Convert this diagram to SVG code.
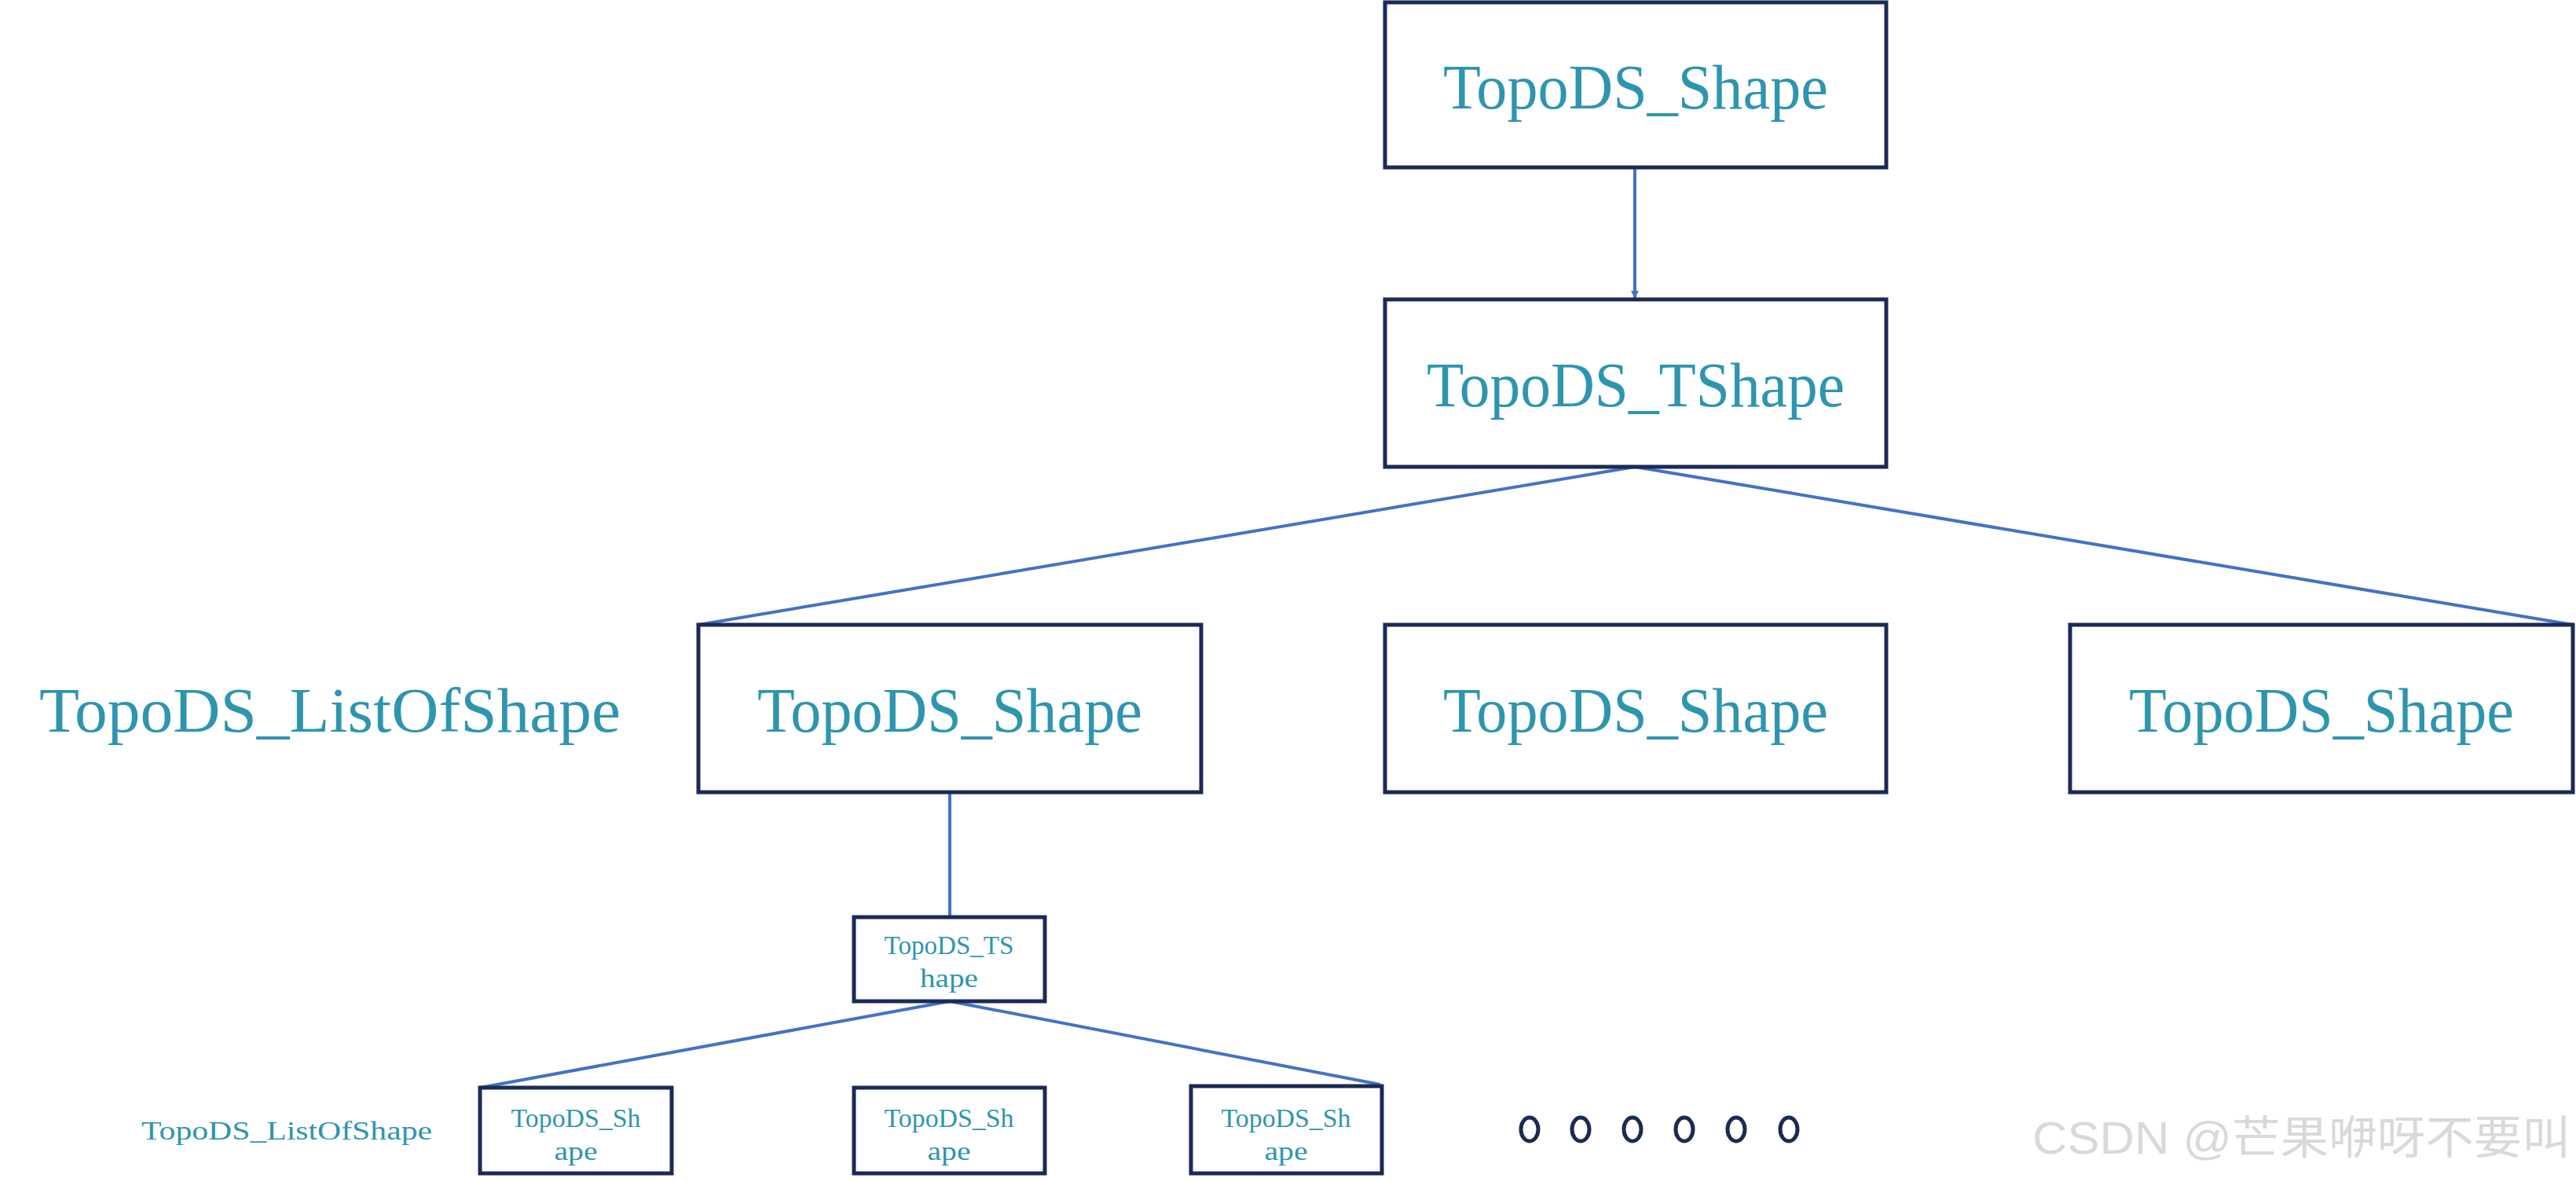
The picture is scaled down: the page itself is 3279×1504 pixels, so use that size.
<svg xmlns="http://www.w3.org/2000/svg" width="3279" height="1504" viewBox="0 0 3279 1504">
<style>
.b{fill:#fff;stroke:#1b2a55;stroke-width:5}
.t{font-family:"Liberation Serif","Noto Sans CJK SC",serif;fill:#2e95b0;text-anchor:middle}
.L{font-size:80px}
.s{font-size:34px}
.c{stroke:#4472c4;stroke-width:4;fill:none}
</style>
<defs><marker id="a" markerWidth="10" markerHeight="10" refX="9" refY="5" orient="auto" markerUnits="userSpaceOnUse" viewBox="0 0 10 10"><path d="M0,0L10,5L0,10z" fill="#4472c4"/></marker></defs>
<rect width="3279" height="1504" fill="#fff"/>
<g id="connectors">
<line class="c" x1="2081" y1="213" x2="2081" y2="379" marker-end="url(#a)" style="marker-end:url(#a)"/>
<line class="c" x1="2081" y1="594" x2="889" y2="795"/>
<line class="c" x1="2081" y1="594" x2="3275" y2="795"/>
<line class="c" x1="1209" y1="1008" x2="1209" y2="1167"/>
<line class="c" x1="1209" y1="1274" x2="611" y2="1384"/>
<line class="c" x1="1209" y1="1274" x2="1757" y2="1380"/>
</g>
<g id="n1"><rect class="b" x="1763" y="3" width="638" height="210"/><text class="t L" x="2082" y="138" textLength="490" lengthAdjust="spacingAndGlyphs">TopoDS_Shape</text></g>
<g id="n2"><rect class="b" x="1763" y="381" width="638" height="213"/><text class="t L" x="2082" y="517" textLength="532" lengthAdjust="spacingAndGlyphs">TopoDS_TShape</text></g>
<g id="lbl1"><text class="t L" x="420" y="931" textLength="740" lengthAdjust="spacingAndGlyphs">TopoDS_ListOfShape</text></g>
<g id="n3"><rect class="b" x="889" y="795" width="640" height="213"/><text class="t L" x="1209" y="931" textLength="490" lengthAdjust="spacingAndGlyphs">TopoDS_Shape</text></g>
<g id="n4"><rect class="b" x="1763" y="795" width="638" height="213"/><text class="t L" x="2082" y="931" textLength="490" lengthAdjust="spacingAndGlyphs">TopoDS_Shape</text></g>
<g id="n5"><rect class="b" x="2635" y="795" width="640" height="213"/><text class="t L" x="2955" y="931" textLength="490" lengthAdjust="spacingAndGlyphs">TopoDS_Shape</text></g>
<g id="n6"><rect class="b" x="1087" y="1167" width="243" height="107"/><text class="t s" x="1208" y="1214" textLength="165" lengthAdjust="spacingAndGlyphs">TopoDS_TS</text><text class="t s" x="1208" y="1256" textLength="74" lengthAdjust="spacingAndGlyphs">hape</text></g>
<g id="lbl2"><text class="t s" x="365" y="1450" textLength="370" lengthAdjust="spacingAndGlyphs">TopoDS_ListOfShape</text></g>
<g id="n7"><rect class="b" x="611" y="1384" width="244" height="109"/><text class="t s" x="733" y="1434" textLength="165" lengthAdjust="spacingAndGlyphs">TopoDS_Sh</text><text class="t s" x="733" y="1476" textLength="55" lengthAdjust="spacingAndGlyphs">ape</text></g>
<g id="n8"><rect class="b" x="1087" y="1384" width="243" height="109"/><text class="t s" x="1208" y="1434" textLength="165" lengthAdjust="spacingAndGlyphs">TopoDS_Sh</text><text class="t s" x="1208" y="1476" textLength="55" lengthAdjust="spacingAndGlyphs">ape</text></g>
<g id="n9"><rect class="b" x="1516" y="1382" width="243" height="111"/><text class="t s" x="1637" y="1434" textLength="165" lengthAdjust="spacingAndGlyphs">TopoDS_Sh</text><text class="t s" x="1637" y="1476" textLength="55" lengthAdjust="spacingAndGlyphs">ape</text></g>
<g id="dots" fill="none" stroke="#1b2a55" stroke-width="5">
<ellipse cx="1947" cy="1437" rx="11" ry="15"/><ellipse cx="2012" cy="1437" rx="11" ry="15"/><ellipse cx="2078" cy="1437" rx="11" ry="15"/><ellipse cx="2144" cy="1437" rx="11" ry="15"/><ellipse cx="2210" cy="1437" rx="11" ry="15"/><ellipse cx="2277" cy="1437" rx="11" ry="15"/>
</g>
<text x="2587" y="1468" font-family="'Liberation Sans','Noto Sans CJK SC',sans-serif" font-size="58" fill="#d9d9d9" textLength="685" lengthAdjust="spacingAndGlyphs">CSDN @芒果咿呀不要叫</text>
</svg>
